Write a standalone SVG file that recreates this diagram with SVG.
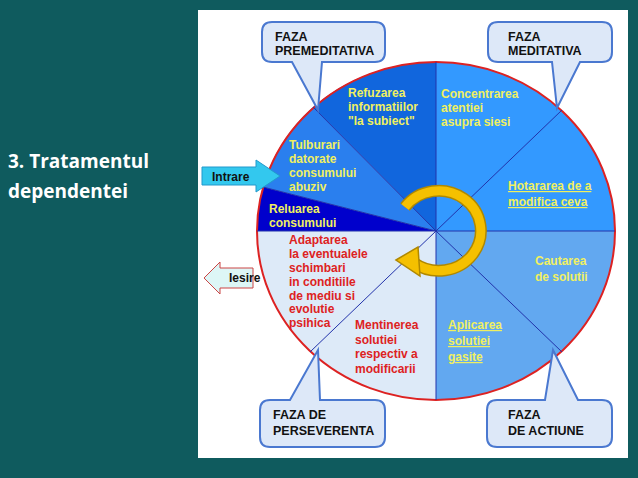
<svg xmlns="http://www.w3.org/2000/svg" width="638" height="478" viewBox="0 0 638 478">
<style>
text{font-family:"Liberation Sans",Arial,sans-serif;font-weight:bold;font-size:12px}
.y{fill:#f0f060}.r{fill:#dd2222}.k{fill:#111}.ck{font-size:12.5px}
.t{fill:#fff;font-family:"Open Sans","Liberation Sans",sans-serif;font-size:19px}
.call{fill:#dde8f8;stroke:#4a78d0;stroke-width:2}
.ln{stroke:#2233aa;stroke-width:1;fill:none}
</style>
<rect width="638" height="478" fill="#0f5b5e"/>
<rect x="198" y="10" width="430" height="448" fill="#fff"/>
<text x="8" y="168" class="t">3. Tratamentul</text>
<text x="8" y="198" class="t">dependentei</text>
<g id="circle">
<path d="M436,231 L313,107 A179 169 0 0 1 436,62 Z" fill="#1166dd"/>
<path d="M436,231 L263,187 A179 169 0 0 1 313,107 Z" fill="#2a7fee"/>
<path d="M436,231 L257,231 A179 169 0 0 1 263,187 Z" fill="#0000cc"/>
<path d="M436,231 L436,62 A179 169 0 0 1 615,231 Z" fill="#3399ff"/>
<path d="M436,231 L615,231 A179 169 0 0 1 436,400 Z" fill="#62a8f0"/>
<path d="M436,231 L436,400 A179 169 0 0 1 257,231 Z" fill="#ddeaf8"/>
<ellipse cx="436" cy="231" rx="179" ry="169" fill="none" stroke="#dd2222" stroke-width="2"/>
</g>
<g id="connectors">
<path class="ln" d="M436,62V400M257,231H615M436,231L313,107M436,231L263,187M436,231L562,110M436,231L310,352M436,231L562,352"/>
</g>
<g id="cycle">
<path d="M405,207 A42 40 0 1 1 414,263" fill="none" stroke="#b08800" stroke-width="12"/>
<path d="M405,207 A42 40 0 1 1 414,263" fill="none" stroke="#f5c000" stroke-width="9"/>
<polygon points="396,260 418,247 420,276" fill="#f5c000" stroke="#b08800" stroke-width="1.5"/>
</g>
<g id="intrare">
<polygon points="202,167 256,167 256,160 280,176 256,192 256,185 202,185" fill="#33c8ee" stroke="#2299cc"/>
<text x="212" y="181" class="k">Intrare</text>
</g>
<g id="iesire">
<polygon points="253,268 220,268 220,262 204,278 220,294 220,288 253,288" fill="#ddf6f6" stroke="#cc4444"/>
<text x="229" y="282" class="k">Iesire</text>
</g>
<g id="labels">
<text class="y" x="348" y="97">Refuzarea</text><text class="y" x="348" y="111">informatiilor</text><text class="y" x="348" y="125">"la subiect"</text>
<text class="y" x="441" y="98">Concentrarea</text><text class="y" x="441" y="112">atentiei</text><text class="y" x="441" y="126">asupra siesi</text>
<text class="y" x="289" y="149">Tulburari</text><text class="y" x="289" y="163">datorate</text><text class="y" x="289" y="177">consumului</text><text class="y" x="289" y="191">abuziv</text>
<text class="y" x="269" y="213">Reluarea</text><text class="y" x="269" y="227">consumului</text>
<text class="y" x="508" y="190" text-decoration="underline">Hotararea de a</text><text class="y" x="508" y="206" text-decoration="underline">modifica ceva</text>
<text class="r" x="289" y="244">Adaptarea</text><text class="r" x="289" y="258">la eventualele</text><text class="r" x="289" y="272">schimbari</text><text class="r" x="289" y="286">in conditiile</text><text class="r" x="289" y="300">de mediu si</text><text class="r" x="289" y="313">evolutie</text><text class="r" x="289" y="327">psihica</text>
<text class="r" x="355" y="329">Mentinerea</text><text class="r" x="355" y="344">solutiei</text><text class="r" x="355" y="358">respectiv a</text><text class="r" x="355" y="373">modificarii</text>
<text class="y" x="535" y="265">Cautarea</text><text class="y" x="535" y="281">de solutii</text>
<text class="y" x="448" y="329" text-decoration="underline">Aplicarea</text><text class="y" x="448" y="345" text-decoration="underline">solutiei</text><text class="y" x="448" y="361" text-decoration="underline">gasite</text>
</g>
<g id="faza-premeditativa">
<path class="call" d="M272,22H375Q385,22 385,32V52Q385,62 375,62H322L318,110L292,62H272Q262,62 262,52V32Q262,22 272,22Z"/>
<text class="k ck" x="275" y="41">FAZA</text><text class="k ck" x="275" y="55">PREMEDITATIVA</text>
</g>
<g id="faza-meditativa">
<path class="call" d="M498,22H602Q612,22 612,32V52Q612,62 602,62H580L557,108L552,62H498Q488,62 488,52V32Q488,22 498,22Z"/>
<text class="k ck" x="508" y="41">FAZA</text><text class="k ck" x="508" y="55">MEDITATIVA</text>
</g>
<g id="faza-perseverenta">
<path class="call" d="M270,400H290L318,350L320,400H375Q385,400 385,410V437Q385,447 375,447H270Q260,447 260,437V410Q260,400 270,400Z"/>
<text class="k ck" x="273" y="419">FAZA DE</text><text class="k ck" x="273" y="435">PERSEVERENTA</text>
</g>
<g id="faza-actiune">
<path class="call" d="M497,400H545L553,350L578,400H602Q612,400 612,410V437Q612,447 602,447H497Q487,447 487,437V410Q487,400 497,400Z"/>
<text class="k ck" x="508" y="419">FAZA</text><text class="k ck" x="508" y="435">DE ACTIUNE</text>
</g>
</svg>
